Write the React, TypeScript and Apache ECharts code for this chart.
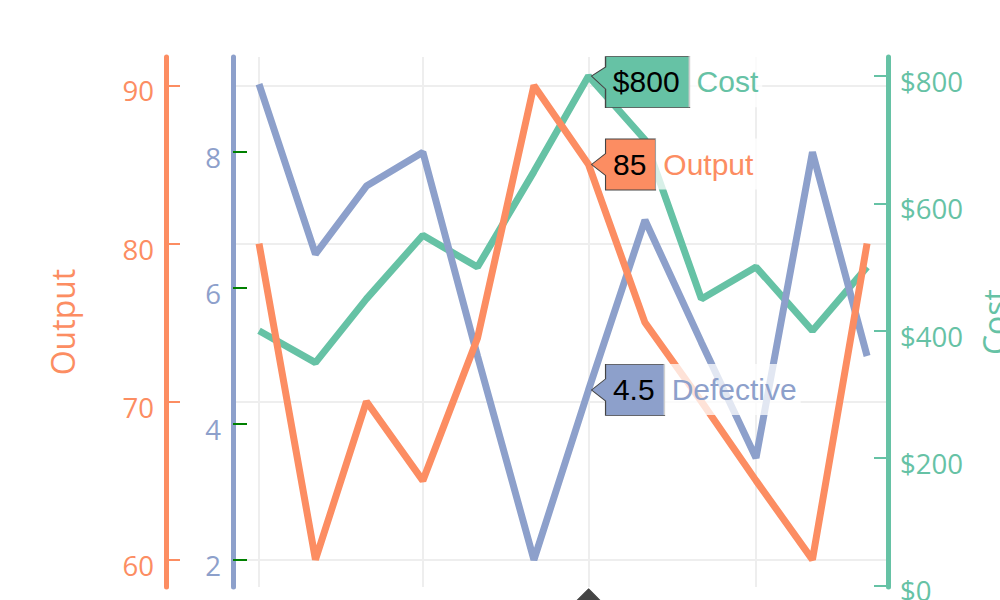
import React, { useEffect, useRef } from 'react';
import * as echarts from 'echarts';

// monthly points, one per series
const months = [
  '2019-01-01', '2019-02-01', '2019-03-01', '2019-04-01', '2019-05-01', '2019-06-01',
  '2019-07-01', '2019-08-01', '2019-09-01', '2019-10-01', '2019-11-01', '2019-12-01',
];
const output = [80, 60, 70, 65, 74, 90, 85, 75, 70, 65, 60, 80];
const defective = [9, 6.5, 7.5, 8, 5, 2, 4.5, 7, 5.2, 3.5, 8, 5];
const cost = [400, 350, 450, 550, 500, 650, 800, 700, 450, 500, 400, 500];

const xTicks = ['2019-01-01', '2019-04-01', '2019-07-01', '2019-10-01'];
const outputTicks = [60, 70, 80, 90];
const defectiveTicks = [2, 4, 6, 8];
const costTicks = [0, 200, 400, 600, 800];

// the month the hover labels sit on
const hoverIndex = 6;

const ORANGE = '#fc8d62';
const BLUE = '#8da0cb';
const GREEN = '#66c2a5';
const GRID = '#eeeeee';
const TICK_FONT = '"Open Sans", sans-serif';
const HOVER_FONT = 'Arial, "Liberation Sans", sans-serif';
const HOVER_SIZE = 30;
const BOX_H = 51;
const ARROW = 14;

const X_MIN = Date.UTC(2018, 11, 17, 17);
const X_MAX = Date.UTC(2019, 11, 12, 12);
const COST_MIN = -2.5;

const ts = (d: string) => new Date(d + 'T00:00:00Z').getTime();

function textWidth(s: string, font: string): number {
  const ctx = document.createElement('canvas').getContext('2d');
  if (!ctx) return s.length * 16;
  ctx.font = font;
  return ctx.measureText(s).width;
}

// plotly-style hover box: arrow on the left, value inside, series name after it.
// dy pushes the box down (plotly keeps it inside the plot area) while the tip stays put.
function hoverLabel(value: string, name: string, color: string, y: number, dy = 0) {
  const w = Math.round(textWidth(value, `${HOVER_SIZE}px ${HOVER_FONT}`)) + 17;
  const W = ARROW + w;
  const h2 = BOX_H / 2;
  const tip = h2 - dy;
  const up = dy ? 9 : 11;
  const down = dy ? 13 : 11;
  return {
    coord: [ts(months[hoverIndex]), y],
    symbol: `path://M0,${tip}L${ARROW},${tip - up}L${ARROW},0L${W},0L${W},${BOX_H}L${ARROW},${BOX_H}L${ARROW},${tip + down}Z`,
    symbolSize: [W, BOX_H],
    symbolOffset: [W / 2 + 3, dy],
    itemStyle: { color, borderColor: '#444', borderWidth: 1 },
    label: {
      show: true,
      position: [ARROW + 8, h2],
      align: 'left',
      verticalAlign: 'middle',
      formatter: `{v|${value}}{n|${name}}`,
      rich: {
        v: { color: '#000', fontSize: HOVER_SIZE, fontFamily: HOVER_FONT, padding: [0, 9, 0, 0] },
        n: {
          color,
          fontSize: HOVER_SIZE,
          fontFamily: HOVER_FONT,
          backgroundColor: 'rgba(255,255,255,0.75)',
          height: BOX_H,
          padding: [0, 4, 0, 8],
        },
      },
    },
  };
}

function lineSeries(name: string, values: number[], color: string, yAxisIndex: number, marks: any[]) {
  return {
    type: 'line',
    name,
    yAxisIndex,
    data: months.map((m, i) => [ts(m), values[i]]),
    showSymbol: false,
    silent: true,
    lineStyle: { width: 7, color },
    itemStyle: { color },
    markPoint: { silent: true, animation: false, data: marks },
  };
}

function yAxis(opts: {
  color: string;
  tickColor: string;
  position: 'left' | 'right';
  offset: number;
  min: number;
  max: number;
  ticks: number[];
  name?: string;
  nameGap?: number;
  grid?: boolean;
  prefix?: string;
}) {
  const prefix = opts.prefix || '';
  return {
    type: 'value',
    position: opts.position,
    offset: opts.offset,
    min: opts.min,
    max: opts.max,
    name: opts.name,
    nameLocation: 'middle',
    nameGap: opts.nameGap,
    nameTextStyle: { color: opts.color, fontSize: 32, fontFamily: TICK_FONT },
    axisLine: { show: true, onZero: false, lineStyle: { color: opts.color, width: 5 } },
    axisTick: { show: true, inside: true, length: 14, customValues: opts.ticks, lineStyle: { color: opts.tickColor, width: 2 } },
    axisLabel: {
      color: opts.color,
      fontSize: 27.6,
      fontFamily: TICK_FONT,
      margin: 12,
      customValues: opts.ticks,
      // plotly sets its tick text a little below the tick
      formatter: (v: number) => `{t|${prefix}${v}}`,
      rich: {
        t: { color: opts.color, fontSize: 27.6, fontFamily: TICK_FONT, padding: [10, 0, 0, 0] },
      },
    },
    splitLine: { show: !!opts.grid, lineStyle: { color: GRID, width: 2 } },
  };
}

export default function App() {
  const ref = useRef<HTMLDivElement | null>(null);

  useEffect(() => {
    if (!ref.current) return;
    const chart = echarts.init(ref.current, undefined, { renderer: 'svg' });
    const julTs = ts(months[hoverIndex]);

    chart.setOption({
      animation: false,
      backgroundColor: '#fff',
      grid: { left: 233, right: 112, top: 57, bottom: 13, containLabel: false, outerBoundsMode: 'none' },
      xAxis: {
        type: 'time',
        min: X_MIN,
        max: X_MAX,
        axisLine: { show: false },
        axisTick: { show: false, customValues: xTicks.map(ts) },
        axisLabel: { show: false },
        splitLine: { show: true, lineStyle: { color: GRID, width: 2 } },
      },
      yAxis: [
        yAxis({ color: ORANGE, tickColor: ORANGE, position: 'left', offset: 67, min: 58.27, max: 91.8, ticks: outputTicks, name: 'Output', nameGap: 88, grid: true }),
        yAxis({ color: BLUE, tickColor: 'green', position: 'left', offset: 0, min: 1.6, max: 9.4, ticks: defectiveTicks }),
        yAxis({
          color: GREEN,
          tickColor: GREEN,
          position: 'right',
          offset: 0,
          min: COST_MIN,
          max: 830,
          ticks: costTicks,
          name: 'Cost',
          nameGap: 90,
          prefix: '$',
        }),
      ],
      series: [
        lineSeries('Cost', cost, GREEN, 2, [
          hoverLabel(`$${cost[hoverIndex]}`, 'Cost', GREEN, cost[hoverIndex], 6),
          {
            coord: [julTs, COST_MIN],
            symbol: 'path://M0,0L14,14L70,14L70,60L-70,60L-70,14L-14,14Z',
            symbolSize: [140, 60],
            symbolOffset: [0, 32],
            itemStyle: { color: '#444', borderColor: '#444', borderWidth: 1 },
            label: { show: false },
          },
        ]),
        lineSeries('Defective', defective, BLUE, 1, [
          hoverLabel(`${defective[hoverIndex]}`, 'Defective', BLUE, defective[hoverIndex]),
        ]),
        lineSeries('Output', output, ORANGE, 0, [
          hoverLabel(`${output[hoverIndex]}`, 'Output', ORANGE, output[hoverIndex]),
        ]),
      ],
    });

    return () => chart.dispose();
  }, []);

  return (
    <div
      ref={ref}
      style={{ position: 'fixed', left: 0, top: 0, width: 1000, height: 600, background: '#fff' }}
    />
  );
}
